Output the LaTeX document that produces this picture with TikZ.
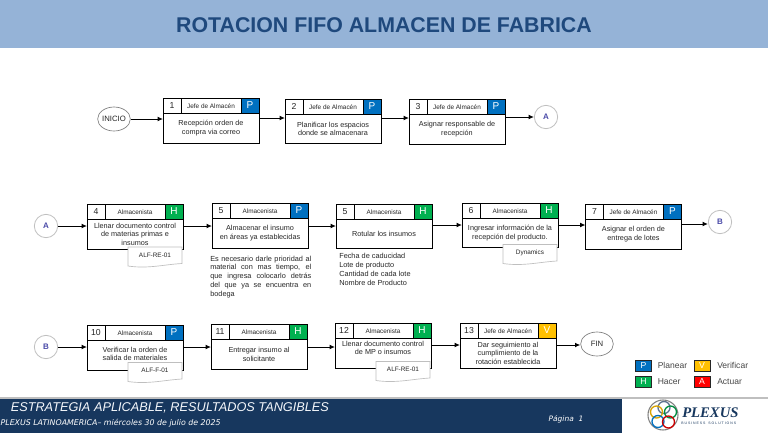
\documentclass[tikz,border=0pt]{standalone}
\usepackage{fontspec}
\setmainfont{Liberation Sans}
\newfontfamily\footfont{DejaVu Sans}
\newfontfamily\logofont{Liberation Serif}
\usetikzlibrary{arrows.meta,calc,shapes.geometric}
\definecolor{planC}{HTML}{0070C0}
\definecolor{doC}{HTML}{00B050}
\definecolor{chkC}{HTML}{FFC000}
\definecolor{actC}{HTML}{FF0000}
\definecolor{bandC}{HTML}{95B3D7}
\definecolor{titleC}{HTML}{1F497D}
\definecolor{navyC}{HTML}{17375E}
\definecolor{ringC}{HTML}{BFBFBF}
\definecolor{conC}{HTML}{4A4AA8}
\definecolor{inkC}{HTML}{262626}
\tikzset{
  x=0.75pt,y=-0.75pt,
  cardbox/.style={draw=black,line width=0.72pt,fill=white,inner sep=0pt,outer sep=0pt},
  cardtext/.style={font=\fontsize{5.45}{6.5}\selectfont,text=inkC,align=center,inner sep=0pt},
  rolecell/.style={font=\fontsize{4.8}{5.5}\selectfont,text=inkC,inner sep=0pt},
  numcell/.style={font=\fontsize{6.5}{7.5}\selectfont,text=inkC,inner sep=0pt},
  lettercell/.style={font=\fontsize{7.5}{8}\selectfont,text=white,inner sep=0pt,anchor=center},
  flow/.style={draw=black,line width=0.75pt,-{Latex[length=4pt,width=3.6pt]}},
  connector/.style={circle,draw=ringC,line width=0.6pt,fill=white,minimum size=17.5pt,inner sep=0pt,font=\bfseries\fontsize{6}{7}\selectfont,text=conC},
  terminal/.style={ellipse,draw=gray,line width=0.5pt,fill=white,minimum width=24.5pt,minimum height=18pt,inner sep=-6pt,font=\fontsize{5.8}{7}\selectfont,text=inkC},
  docpath/.style={draw=ringC,line width=0.5pt,fill=white},
  doclabel/.style={font=\fontsize{4.8}{5.5}\selectfont,text=inkC,inner sep=0pt},
  note/.style={font=\fontsize{5.5}{6.6}\selectfont,text=inkC,inner sep=0pt,anchor=north west},
  legbox/.style={draw=inkC,line width=0.7pt,minimum width=12pt,minimum height=8.2pt,inner sep=0pt,font=\fontsize{6.5}{7}\selectfont,text=white},
  leglabel/.style={font=\fontsize{6.4}{7}\selectfont,text=inkC!85,inner sep=0pt,anchor=west},
}
% name, left, top, bottom, number, role, colour, letter, text
\newcommand\flowcard[9]{%
  \node[cardbox,anchor=north west,minimum width=72pt,minimum height={(#4-#3)*0.75pt}] (#1) at (#2,#3) {};
  \draw[line width=0.72pt,fill=#7] ($(#1.north east)+(-18,0)$) rectangle ($(#1.north east)+(0,15.5)$);
  \draw[line width=0.72pt] (#1.north west) ++(0,15.5) -- ++(96,0);
  \draw[line width=0.72pt] (#1.north west) ++(18,0) -- ++(0,15.5);
  \node[numcell] (#1-n) at ($(#1.north west)+(9,7.5)$) {#5};
  \node[rolecell] (#1-r) at ($(#1.north west)+(48,7.8)$) {#6};
  \node[lettercell] (#1-l) at ($(#1.north east)+(-9,7.5)$) {#8};
  \node[cardtext] (#1-t) at ($(#1.north west)+(48,{15.5+(#4-#3-15.5)/2})$) {#9};
}
% name, left, top, text
\newcommand\docnote[4]{%
  \begin{scope}[shift={(#2,#3)}]
    \draw[docpath] (0,0) -- (54,0) -- (54,16.5) .. controls (36,17.5) and (20,22) .. (0,19) -- cycle;
    \node[doclabel] (#1) at (27,8) {#4};
  \end{scope}
}
% from, to, level
\newcommand\flowlink[3]{\draw[flow] (#1.east |- 0,#3) -- (#2.west |- 0,#3);}
\begin{document}
\begin{tikzpicture}
\useasboundingbox (0,0) rectangle (768,433);
\fill[white] (0,0) rectangle (768,433);
% header band
\fill[bandC] (0,0) rectangle (768,48);
\node[font=\bfseries\fontsize{16}{18}\selectfont,text=titleC,inner sep=0pt] (title) at (384,25) {ROTACION FIFO ALMACEN DE FABRICA};
% footer
\fill[ringC] (0,396.5) rectangle (768,398.5);
\fill[navyC] (0,398.5) rectangle (622,433);
\node[font=\itshape\fontsize{9.55}{11}\selectfont,text=white!90!bandC,inner sep=0pt,anchor=west] (slogan) at (10.5,408) {ESTRATEGIA APLICABLE, RESULTADOS TANGIBLES};
\node[font=\footfont\itshape\fontsize{5.9}{7}\selectfont,text=white,inner sep=0pt,anchor=east] (dateline) at (221,423.5) {PLEXUS LATINOAMERICA– miércoles 30 de julio de 2025};
\node[font=\footfont\itshape\fontsize{5.6}{6}\selectfont,text=white,inner sep=0pt] (page) at (566,419) {Página\ \ 1};
% logo
\draw[gray,line width=0.8pt] (663,415) circle (15);
\draw[navyC!70,line width=1pt] (664,407.5) circle (6);
\draw[chkC!85!black,line width=1pt] (656.5,412) circle (6);
\draw[doC!80!black,line width=1pt] (670.5,412) circle (6);
\draw[planC,line width=1pt] (658,421.5) circle (6);
\draw[actC!80!black,line width=1pt] (668.5,422) circle (6);
\node[font=\logofont\bfseries\itshape\fontsize{11}{12}\selectfont,text=navyC,inner sep=0pt,anchor=west] (logoname) at (682,412.5) {PLEXUS};
\node[font=\fontsize{2.6}{3}\selectfont,text=navyC,inner sep=0pt,anchor=west] (logosub) at (681,423) {B U S I N E S S\ \ \ S O L U T I O N S};
% row 1
\node[terminal] (inicio) at (114,119) {INICIO};
\flowcard{s1}{163}{98}{143}{1}{Jefe de Almacén}{planC}{P}{Recepción orden de\\compra via correo}
\flowcard{s2}{285}{99}{143}{2}{Jefe de Almacén}{planC}{P}{Planificar los espacios\\donde se almacenara}
\flowcard{s3}{409}{99}{144}{3}{Jefe de Almacén}{planC}{P}{Asignar responsable de\\recepción}
\node[connector] (a1) at (546,117) {A};
% row 2
\node[connector] (a2) at (46,226) {A};
\flowcard{s4}{87}{204}{249}{4}{Almacenista}{doC}{H}{Llenar documento control\\de materias primas e\\insumos}
\flowcard{s5}{212}{203}{248}{5}{Almacenista}{planC}{P}{Almacenar el insumo\\en áreas ya establecidas}
\flowcard{s5b}{336}{204}{248}{5}{Almacenista}{doC}{H}{Rotular los insumos}
\flowcard{s6}{462}{203}{247}{6}{Almacenista}{doC}{H}{Ingresar información de la\\recepción del producto.}
\flowcard{s7}{585.5}{204}{249}{7}{Jefe de Almacén}{planC}{P}{Asignar el orden de\\entrega de lotes}
\node[connector] (b1) at (720,222) {B};
% row 3
\node[connector] (b2) at (46,347) {B};
\flowcard{s10}{87}{325}{370}{10}{Almacenista}{planC}{P}{Verificar la orden de\\salida de materiales\\[-4.3pt]\mbox{}}
\flowcard{s11}{211}{324}{369}{11}{Almacenista}{doC}{H}{Entregar insumo al\\solicitante}
\flowcard{s12}{335}{323}{368}{12}{Almacenista}{doC}{H}{Llenar documento control\\de MP o insumos\\[1.7pt]\mbox{}}
\flowcard{s13}{460}{323}{368}{13}{Jefe de Almacén}{chkC}{V}{Dar seguimiento al\\cumplimiento de la\\rotación establecida}
\node[terminal] (fin) at (597,344) {FIN};
% documents
\docnote{d4}{128}{247}{ALF-RE-01}
\docnote{d6}{503}{244.5}{Dynamics}
\docnote{d10}{128}{362.5}{ALF-F-01}
\docnote{d12}{376}{361.5}{ALF-RE-01}
% notes
\node[note,text width=75.75pt,align=justify] (n5) at (210,255.5) {Es necesario darle prioridad al\linebreak material con mas tiempo, el\linebreak que ingresa colocarlo detrás\linebreak del que ya se encuentra en\linebreak bodega};
\node[note,align=left] (n5b) at (339,253.3) {Fecha de caducidad\\Lote de producto\\Cantidad de cada lote\\Nombre de Producto};
% connectors
\flowlink{inicio}{s1}{119}
\flowlink{s1}{s2}{118}
\flowlink{s2}{s3}{118}
\flowlink{s3}{a1}{117}
\flowlink{a2}{s4}{226}
\flowlink{s4}{s5}{226}
\flowlink{s5}{s5b}{226}
\flowlink{s5b}{s6}{225}
\flowlink{s6}{s7}{225}
\flowlink{s7}{b1}{224}
\flowlink{b2}{s10}{347}
\flowlink{s10}{s11}{347}
\flowlink{s11}{s12}{347}
\flowlink{s12}{s13}{345}
\flowlink{s13}{fin}{345}
% legend
\node[legbox,fill=planC] (lp) at (643.5,365.5) {P};
\node[leglabel] (lpt) at (657.5,365) {Planear};
\node[legbox,fill=chkC] (lv) at (702,365.5) {V};
\node[leglabel] (lvt) at (717,365) {Verificar};
\node[legbox,fill=doC] (lh) at (643.5,382) {H};
\node[leglabel] (lht) at (657.5,381.5) {Hacer};
\node[legbox,fill=actC] (la) at (702,382) {A};
\node[leglabel] (lat) at (717,381.5) {Actuar};
\end{tikzpicture}
\end{document}
